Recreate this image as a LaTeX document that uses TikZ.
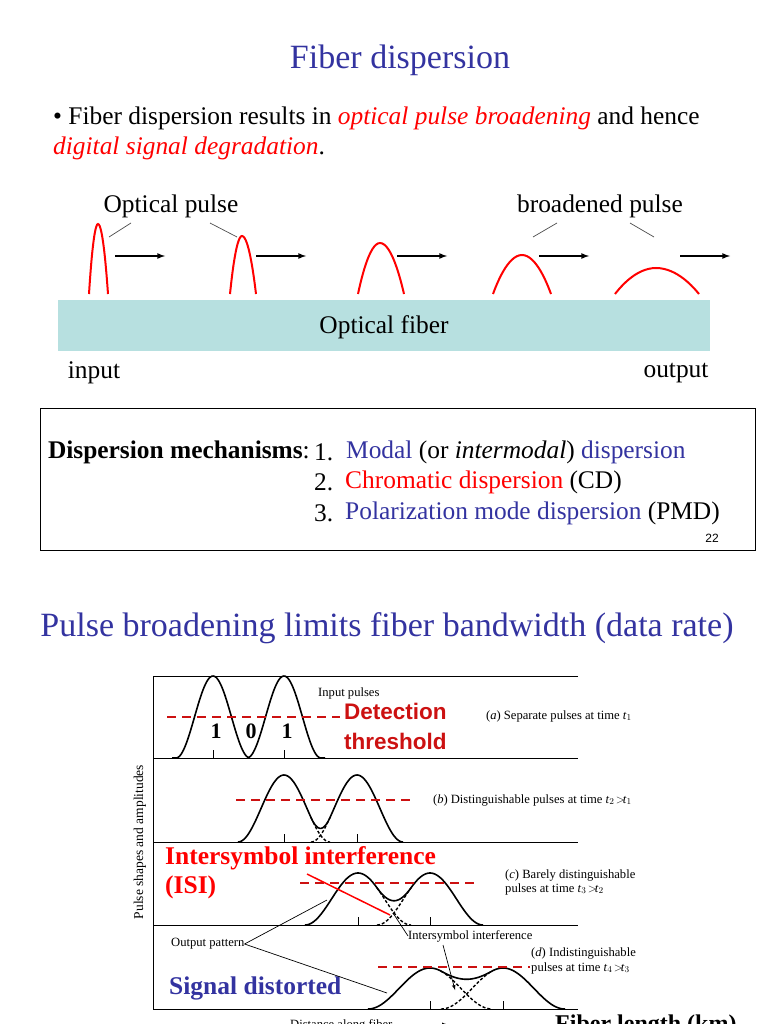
\documentclass[tikz,border=0pt]{standalone}
\usepackage{fontspec}
\setmainfont{Liberation Serif}
\setsansfont{Liberation Sans}
\begin{document}
\begin{tikzpicture}[x=1pt,y=-1pt,
  declare function={cp(\p,\q,\r)=(1+cos(180*min(1,abs(\p-\q)/\r)))/2;},
  titl/.style={text=titleblue,font=\fontsize{34}{38}\selectfont,inner sep=0},
  body/.style={font=\fontsize{25.4}{29}\selectfont,inner sep=0},
  small/.style={font=\fontsize{12.6}{14}\selectfont,inner sep=0},
  rpulse/.style={draw=red,line width=2pt},
  parr/.style={-latex,line width=1.6pt},
  lead/.style={draw=black!70,line width=0.7pt},
  thr/.style={draw=thrred,line width=2.2pt,dash pattern=on 9pt off 6pt},
  wave/.style={line width=1.6pt},
  tail/.style={line width=1.4pt,dash pattern=on 3pt off 2pt},
  hline/.style={line width=1pt}]
\definecolor{titleblue}{HTML}{3333A0}
\definecolor{thrred}{HTML}{CC1111}
\definecolor{fibercol}{HTML}{B7E0E0}
\useasboundingbox (0,0) rectangle (768,1024);
\clip (0,0) rectangle (768,1024);
% top slide
\node[titl] (t1) at (400,60) {Fiber dispersion};
\node[body,anchor=west] (b1) at (53,118) {\textbullet\ Fiber dispersion results in \textcolor{red}{\textit{optical pulse broadening}} and hence};
\node[body,anchor=west] (b2) at (53,148) {\textcolor{red}{\textit{digital signal degradation}}.};
\node[body] (lop) at (171,206) {Optical pulse};
\node[body] (lbp) at (600,206) {broadened pulse};
\draw[lead] (109,237) -- (131,223);
\draw[lead] (210,223) -- (237,237);
\draw[lead] (533,237) -- (557,223);
\draw[lead] (630,223) -- (654,237);
\draw[rpulse] (89,294) parabola bend (98,224) (108,294);
\draw[rpulse] (230,294) parabola bend (242,236) (256,294);
\draw[rpulse] (358,294) parabola bend (380,243) (404,294);
\draw[rpulse] (493,294) parabola bend (522,255) (551,294);
\draw[rpulse] (615,294) parabola bend (656,268) (699,294);
\foreach \a in {115,256,397,539,680} \draw[parr] (\a,256) -- (\a+50,256);
\fill[fibercol] (58,300) rectangle (710,351);
\node[body] (fib) at (384,327) {Optical fiber};
\node[body] (inp) at (94,373) {input};
\node[body] (outp) at (676,373) {output};
\node[draw,line width=0.8pt,minimum width=715pt,minimum height=142pt,anchor=north west,inner sep=0] (box) at (40,408) {};
\node[body,anchor=east] (d1) at (310,452) {\textbf{Dispersion mechanisms}:};
\node[body,anchor=west] (d1n) at (314,452) {1.};
\node[body,anchor=west] (d1b) at (346,452) {\textcolor{titleblue}{Modal} (or \textit{intermodal}) \textcolor{titleblue}{dispersion}};
\node[body,anchor=west] (d2) at (314,482) {2.};
\node[body,anchor=west] (d2b) at (345,482) {\textcolor{red}{Chromatic dispersion} (CD)};
\node[body,anchor=west] (d3) at (314,513) {3.};
\node[body,anchor=west] (d3b) at (345,513) {\textcolor{titleblue}{Polarization mode dispersion} (PMD)};
\node[font=\sffamily\fontsize{12}{13}\selectfont,inner sep=0] (pg) at (712,538) {22};
% second slide
\node[titl] (t2) at (387,628) {Pulse broadening limits fiber bandwidth (data rate)};
\draw[hline] (578,676) -- (153,676) -- (153,1009) -- (578,1009);
\foreach \yy in {758,842,925} \draw[hline] (153,\yy) -- (578,\yy);
% panel a
\draw[wave] plot[domain=172:325,samples=120,variable=\t] (\t,{758-82*(cp(\t,213,37)+cp(\t,284,37))});
\foreach \c in {213,284} \draw (\c,758) -- (\c,750);
\draw[thr] (167,717) -- (340,717);
\node[font=\bfseries\sffamily\fontsize{22.5}{25}\selectfont,text=thrred,inner sep=0,anchor=west] (det) at (344,711) {Detection};
\node[font=\bfseries\sffamily\fontsize{22.5}{25}\selectfont,text=thrred,inner sep=0,anchor=west] (thh) at (344,741) {threshold};
\node[font=\bfseries\fontsize{22}{24}\selectfont,inner sep=0] (n1) at (216,731) {1};
\node[font=\bfseries\fontsize{22}{24}\selectfont,inner sep=0] (n0) at (251,731) {0};
\node[font=\bfseries\fontsize{22}{24}\selectfont,inner sep=0] (n1b) at (287,731) {1};
\node[small,anchor=west] (ip) at (318,693) {Input pulses};
\node[small,anchor=east] (la) at (632,716) {(\textit{a}) Separate pulses at time \textit{t}$_1$};
% panel b
\draw[wave] plot[domain=238:403,samples=120,variable=\t] (\t,{842-67*(cp(\t,284,46)+cp(\t,357,46))});
\draw[tail] plot[domain=311:330,samples=20,variable=\t] (\t,{842-67*cp(\t,284,46)});
\draw[tail] plot[domain=311:330,samples=20,variable=\t] (\t,{842-67*cp(\t,357,46)});
\foreach \c in {284,357} \draw (\c,842) -- (\c,834);
\draw[thr] (236,800) -- (410,800);
\node[small,anchor=east] (lb) at (632,800) {(\textit{b}) Distinguishable pulses at time \textit{t}$_2\!>\!$\textit{t}$_1$};
% panel c
\draw[wave] plot[domain=305:483,samples=120,variable=\t] (\t,{925-52*(cp(\t,358,53)+cp(\t,430,53))});
\draw[tail] plot[domain=377:411,samples=20,variable=\t] (\t,{925-52*cp(\t,358,53)});
\draw[tail] plot[domain=377:411,samples=20,variable=\t] (\t,{925-52*cp(\t,430,53)});
\foreach \c in {358,430} \draw (\c,925) -- (\c,917);
\draw[thr] (300,883) -- (475,883);
\node[small,anchor=west] (lc1) at (505,875) {(\textit{c}) Barely distinguishable};
\node[small,anchor=west] (lc2) at (505,889) {pulses at time \textit{t}$_3\!>\!$\textit{t}$_2$};
\node[font=\bfseries\fontsize{25.5}{28}\selectfont,text=red,inner sep=0,anchor=west] (isi1) at (165,858) {Intersymbol interference};
\node[font=\bfseries\fontsize{25.5}{28}\selectfont,text=red,inner sep=0,anchor=west] (isi2) at (165,887) {(ISI)};
\draw[red,line width=1.5pt] (307,874) -- (390,915);
% panel d
\draw[wave] plot[domain=368:565,samples=140,variable=\t] (\t,{1009-41*(cp(\t,430,62)+cp(\t,503,62))});
\draw[tail] plot[domain=441:492,samples=25,variable=\t] (\t,{1009-41*cp(\t,430,62)});
\draw[tail] plot[domain=441:492,samples=25,variable=\t] (\t,{1009-41*cp(\t,503,62)});
\foreach \c in {430,503} \draw (\c,1009) -- (\c,1001);
\draw[thr] (378,967) -- (530,967);
\node[small,anchor=west] (ld1) at (531,953) {(\textit{d}) Indistinguishable};
\node[small,anchor=west] (ld2) at (531,968) {pulses at time \textit{t}$_4\!>\!$\textit{t}$_3$};
\node[font=\bfseries\fontsize{25.5}{28}\selectfont,text=titleblue,inner sep=0,anchor=west] (sd) at (169,988) {Signal distorted};
% annotations
\node[small,anchor=west] (op) at (171,944) {Output pattern};
\coordinate (opa) at (327,900);
\coordinate (opb) at (387,993);
\draw[lead,black] (op.east) -- (opa);
\draw[lead,black] (op.east) -- (opb);
\node[small,anchor=west] (isl) at (408,936) {Intersymbol interference};
\coordinate (isa) at (393,913);
\coordinate (isb) at (455,990);
\draw[lead,black] (isl.west) -- (isa);
\draw[lead,black,-latex] (443,945) -- (isb);
\node[font=\fontsize{13.5}{15}\selectfont,inner sep=0,rotate=90] (ya) at (140,842) {Pulse shapes and amplitudes};
\node[small,anchor=west] (dist) at (290,1025) {Distance along fiber};
\draw[-latex] (412,1024) -- (446,1024);
\node[font=\bfseries\fontsize{24}{26}\selectfont,inner sep=0,anchor=west] (fl) at (555,1026) {Fiber length (km)};
\end{tikzpicture}
\end{document}
